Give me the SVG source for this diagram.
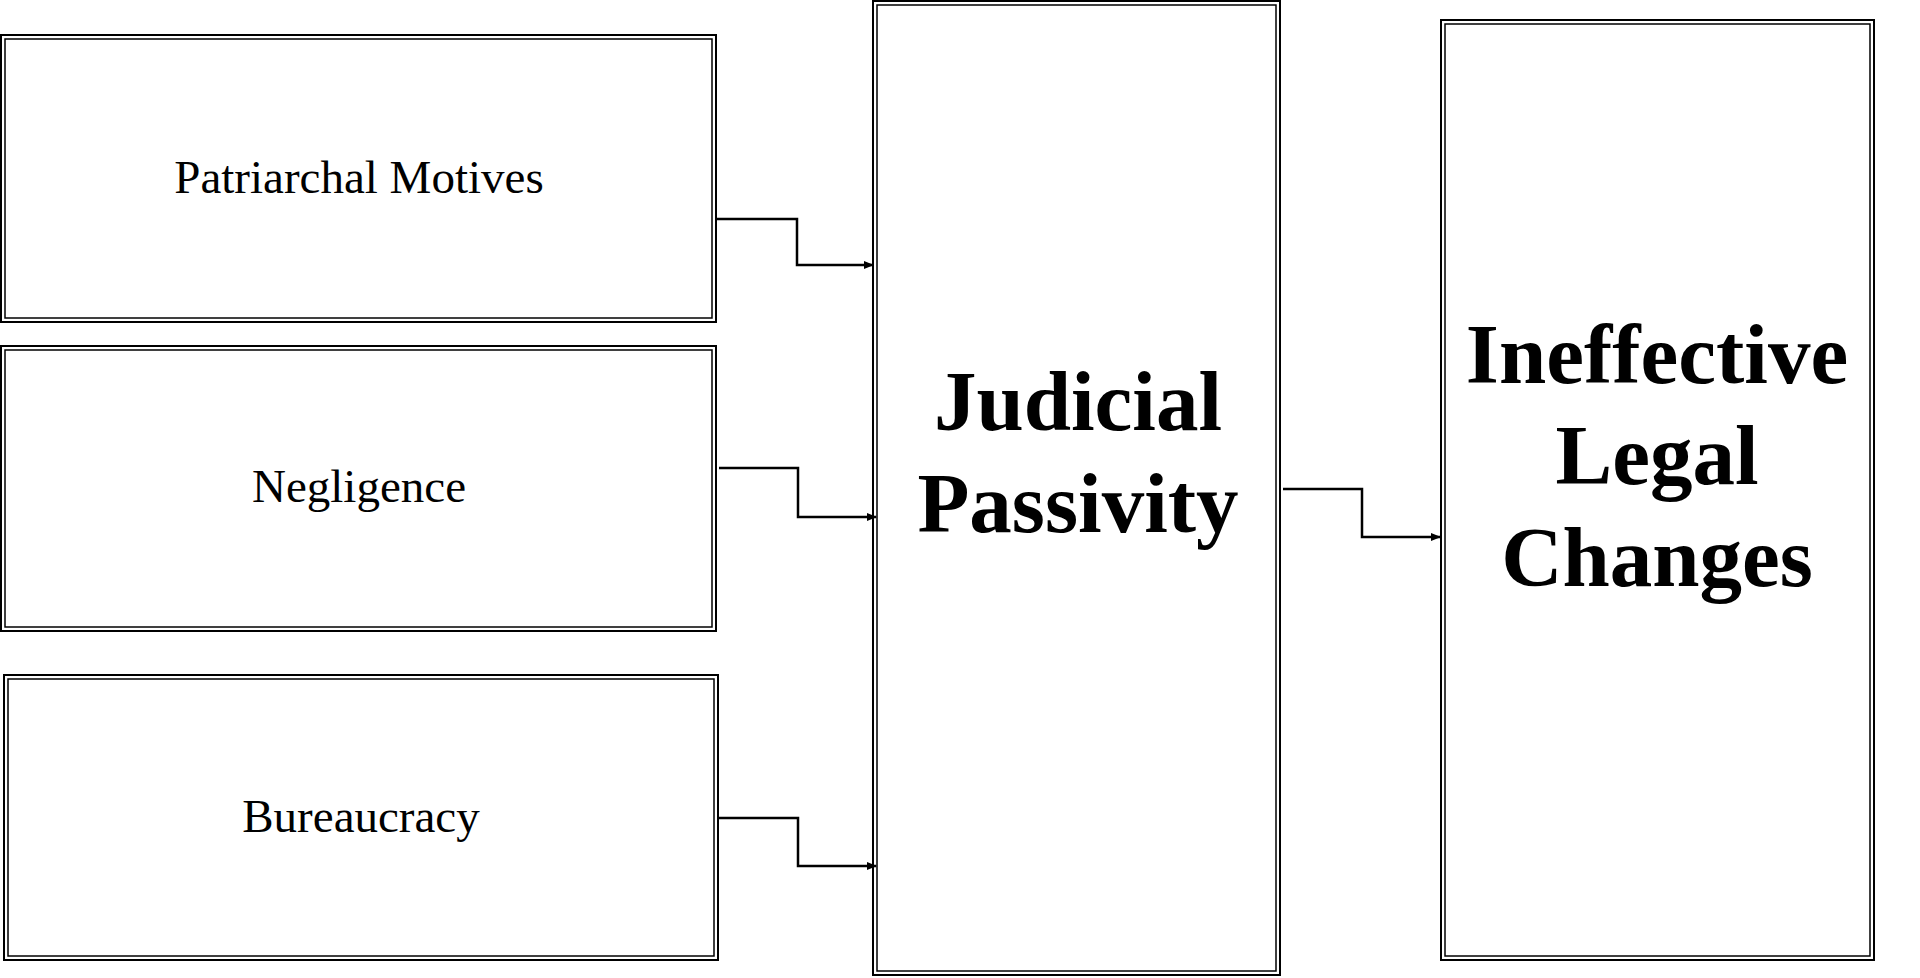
<svg xmlns="http://www.w3.org/2000/svg" width="1920" height="978" viewBox="0 0 1920 978">
<style>
.o{fill:#fff;stroke:#000;stroke-width:2}
.i{fill:none;stroke:#000;stroke-width:1.5}
.t{font-family:"Liberation Serif",serif;font-size:47px;text-anchor:middle}
.b{font-family:"Liberation Serif",serif;font-size:85px;font-weight:bold;text-anchor:middle}
.c{fill:none;stroke:#000;stroke-width:2.5;marker-end:url(#a)}
</style>
<defs><marker id="a" markerWidth="10" markerHeight="8" refX="9" refY="4" orient="auto" markerUnits="userSpaceOnUse"><path d="M0,0L10,4L0,8z"/></marker></defs>
<rect width="1920" height="978" fill="#fff"/>
<g id="n1"><rect class="o" x="1" y="35" width="715" height="287"/><rect class="i" x="5" y="39" width="707" height="279"/><text class="t" x="359" y="193">Patriarchal Motives</text></g>
<g id="n2"><rect class="o" x="1" y="346" width="715" height="285"/><rect class="i" x="5" y="350" width="707" height="277"/><text class="t" x="359" y="502">Negligence</text></g>
<g id="n3"><rect class="o" x="4" y="675" width="714" height="285"/><rect class="i" x="8" y="679" width="706" height="277"/><text class="t" x="361" y="832">Bureaucracy</text></g>
<g id="n4"><rect class="o" x="873" y="1" width="407" height="974"/><rect class="i" x="877" y="5" width="399" height="966"/><text class="b" x="1078" y="430">Judicial</text><text class="b" x="1078" y="532">Passivity</text></g>
<g id="n5"><rect class="o" x="1441" y="20" width="433" height="940"/><rect class="i" x="1445" y="24" width="425" height="932"/><text class="b" x="1657" y="383">Ineffective</text><text class="b" x="1657" y="484">Legal</text><text class="b" x="1657" y="586">Changes</text></g>
<g id="edges">
<path class="c" d="M716,219H797V265H873"/>
<path class="c" d="M719,468H798V517H876"/>
<path class="c" d="M719,818H798V866H876"/>
<path class="c" d="M1283,489H1362V537H1440"/>
</g>
</svg>
